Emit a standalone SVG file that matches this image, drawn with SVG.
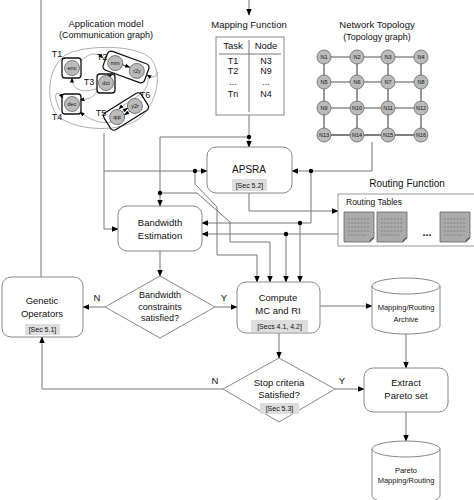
<svg xmlns="http://www.w3.org/2000/svg" width="474" height="500" viewBox="0 0 474 500">
<defs>
<marker id="ar" viewBox="0 0 10 10" refX="9" refY="5" markerWidth="7" markerHeight="7" markerUnits="userSpaceOnUse" orient="auto"><path d="M0,1 L10,5 L0,9 z" fill="#000"/></marker>
<marker id="sa" viewBox="0 0 10 10" refX="9" refY="5" markerWidth="5" markerHeight="5" markerUnits="userSpaceOnUse" orient="auto"><path d="M0,1 L10,5 L0,9 z" fill="#000"/></marker>
<g id="doc"><path d="M0,0 H30 V26 L26,30 H0 Z" fill="#aaa" stroke="#666" stroke-width="0.8"/><path d="M26,30 L27,27 L30,26" fill="none" stroke="#444" stroke-width="0.8"/><g stroke="#666" stroke-width="0.6" stroke-dasharray="2,1.2"><line x1="4" y1="7" x2="26" y2="7"/><line x1="4" y1="11" x2="26" y2="11"/><line x1="4" y1="15" x2="26" y2="15"/><line x1="4" y1="19" x2="26" y2="19"/><line x1="4" y1="23" x2="22" y2="23"/></g></g>
</defs>
<style>
text{font-family:"Liberation Sans",Arial,sans-serif;fill:#111}
.t{font-size:9.5px;text-anchor:middle}
.s{font-size:9px;text-anchor:middle}
.sec{font-size:7px;text-anchor:middle}
.sm{font-size:7.5px;text-anchor:middle}
.nl{font-size:5.5px;text-anchor:middle}
.box{fill:#fff;stroke:#888;stroke-width:1}
.secbg{fill:#ddd}
.c{fill:none;stroke:#777;stroke-width:1}
.ca{fill:none;stroke:#777;stroke-width:1;marker-end:url(#ar)}
.dot{fill:#000}
.nd{fill:#bbb;stroke:#666;stroke-width:0.8}
.tk{fill:none;stroke:#111;stroke-width:1.3}
.g{fill:none;stroke:#999;stroke-width:0.8}
.ga{fill:none;stroke:#999;stroke-width:0.8;marker-end:url(#sa)}
.e{stroke:#555;stroke-width:1.2}
</style>
<rect width="474" height="500" fill="#fff"/>

<g id="connectors">
<line class="c" x1="41" y1="0" x2="41" y2="277"/>
<line class="ca" x1="249" y1="0" x2="249" y2="15"/>
<line class="c" x1="249" y1="115" x2="249" y2="137"/>
<line class="ca" x1="249" y1="137" x2="249" y2="147"/>
<polyline class="ca" points="249,137 160,137 160,206"/>
<polyline class="ca" points="104,133 104,229 118,229"/>
<line class="ca" x1="104" y1="171" x2="207" y2="171"/>
<polyline class="ca" points="372,142 372,171 292,171"/>
<polyline class="c" points="311,171 311,223 300,223"/>
<line class="ca" x1="300" y1="223" x2="202" y2="223"/>
<line class="ca" x1="300" y1="223" x2="300" y2="282"/>
<line class="ca" x1="338" y1="234" x2="202" y2="234"/>
<line class="ca" x1="286" y1="234" x2="286" y2="282"/>
<polyline class="ca" points="195,171 195,184 217,207 217,255 257,255 257,282"/>
<polyline class="ca" points="160,193 197,193 230,222 230,242 270,242 270,282"/>
<polyline class="ca" points="249,193 249,211 338,211"/>
<line class="ca" x1="160" y1="251" x2="160" y2="276"/>
<line class="ca" x1="105" y1="307" x2="83" y2="307"/>
<line class="ca" x1="215" y1="307" x2="237" y2="307"/>
<line class="ca" x1="320" y1="306" x2="372" y2="306"/>
<line class="ca" x1="406" y1="334" x2="406" y2="368"/>
<line class="ca" x1="279" y1="333" x2="279" y2="358"/>
<polyline class="ca" points="223,389 42,389 42,337"/>
<line class="ca" x1="335" y1="389" x2="364" y2="389"/>
<line class="ca" x1="406" y1="412" x2="406" y2="441"/>
<circle class="dot" cx="249" cy="137" r="2.2"/>
<circle class="dot" cx="160" cy="193" r="2.2"/>
<circle class="dot" cx="195" cy="171" r="2.2"/>
<circle class="dot" cx="311" cy="171" r="2.2"/>
<circle class="dot" cx="300" cy="223" r="2.2"/>
<circle class="dot" cx="286" cy="234" r="2.2"/>
<text x="97" y="301" class="t">N</text>
<text x="224" y="301" class="t">Y</text>
<text x="215" y="384" class="t">N</text>
<text x="342" y="384" class="t">Y</text>
</g>

<g id="app-model">
<text x="106" y="27" class="t">Application model</text>
<text x="106" y="38" class="s">(Communication graph)</text>
<path class="g" d="M62,58 C72,45 138,42 152,60 C163,76 156,104 140,118 C120,133 80,131 60,118 C46,108 46,72 62,58"/>
<path class="ga" d="M98,88 C86,93 72,92 72,78"/>
<path class="ga" d="M115,72 C112,76 110,76 107,75"/>
<path class="ga" d="M98,90 C92,100 86,99 80,100"/>
<path class="ga" d="M112,122 C100,124 90,120 80,112"/>
<path class="ga" d="M148,78 C150,94 128,100 119,109"/>
<path class="ga" d="M60,110 C52,95 56,88 63,98"/>
<path class="ga" d="M80,62 C90,52 96,52 103,58"/>
<path class="ga" d="M158,72 C156,78 152,78 147,75"/>
<rect class="tk" x="62" y="58" width="19" height="20" rx="3"/>
<circle class="nd" cx="72" cy="68" r="7.5"/>
<text x="72" y="70" class="nl">enc</text>
<rect class="tk" x="97" y="74" width="18" height="19" rx="3"/>
<circle class="nd" cx="106" cy="83" r="7.5"/>
<text x="106" y="85" class="nl">dct</text>
<rect class="tk" x="62" y="94" width="19" height="20" rx="3"/>
<circle class="nd" cx="72" cy="104" r="7.5"/>
<text x="72" y="106" class="nl">dec</text>
<g transform="translate(126,67) rotate(20)">
<rect class="tk" x="-22" y="-10" width="44" height="20" rx="4"/>
<circle class="nd" cx="-11.5" cy="0" r="7.5"/>
<circle class="nd" cx="11.5" cy="0" r="7.5"/>
<line x1="-4" y1="-1" x2="3.5" y2="-1" stroke="#000" stroke-width="0.7" marker-end="url(#sa)"/>
</g>
<text x="115" y="65" class="nl">mm</text>
<text x="137" y="73" class="nl">r2y</text>
<g transform="translate(126,111.5) rotate(-32)">
<rect class="tk" x="-22" y="-10" width="44" height="20" rx="4"/>
<circle class="nd" cx="-10.5" cy="0" r="7.5"/>
<circle class="nd" cx="10.5" cy="0" r="7.5"/>
<line x1="-3" y1="-2" x2="3" y2="-2" stroke="#000" stroke-width="0.7" marker-end="url(#sa)"/>
<line x1="3" y1="2" x2="-3" y2="2" stroke="#000" stroke-width="0.7" marker-end="url(#sa)"/>
</g>
<text x="117" y="119" class="nl">qqt</text>
<text x="135" y="108" class="nl">y2r</text>
<text x="57" y="57" class="s">T1</text>
<text x="102" y="60" class="s">T2</text>
<text x="89" y="85" class="s">T3</text>
<text x="57" y="120" class="s">T4</text>
<text x="101" y="116" class="s">T5</text>
<text x="145" y="98" class="s">T6</text>
</g>

<g id="mapping-function">
<text x="249" y="28" class="t">Mapping Function</text>
<rect x="216" y="37" width="68" height="78" fill="#fff" stroke="#888"/>
<line x1="249" y1="40" x2="249" y2="112" stroke="#777"/>
<line x1="219" y1="54" x2="281" y2="54" stroke="#777"/>
<text x="233" y="49" class="t">Task</text>
<text x="266" y="49" class="t">Node</text>
<text x="233" y="64" class="s">T1</text>
<text x="266" y="64" class="s">N3</text>
<text x="233" y="74" class="s">T2</text>
<text x="266" y="74" class="s">N9</text>
<text x="233" y="85" class="s">...</text>
<text x="266" y="85" class="s">...</text>
<text x="233" y="97" class="s">Tn</text>
<text x="266" y="97" class="s">N4</text>
</g>

<g id="network-topology">
<text x="377" y="28" class="t">Network Topology</text>
<text x="377" y="40" class="s">(Topology graph)</text>
<g class="e">
<line x1="324" y1="57" x2="421" y2="57"/><line x1="324" y1="82" x2="421" y2="82"/><line x1="324" y1="108" x2="421" y2="108"/><line x1="324" y1="135" x2="421" y2="135" stroke-width="1.6"/>
<line x1="324" y1="57" x2="324" y2="135"/><line x1="357" y1="57" x2="357" y2="135"/><line x1="388" y1="57" x2="388" y2="135"/><line x1="421" y1="57" x2="421" y2="135"/>
</g>
<g>
<circle class="nd" cx="324" cy="57" r="7"/><circle class="nd" cx="357" cy="57" r="7"/><circle class="nd" cx="388" cy="57" r="7"/><circle class="nd" cx="421" cy="57" r="7"/>
<circle class="nd" cx="324" cy="82" r="7"/><circle class="nd" cx="357" cy="82" r="7"/><circle class="nd" cx="388" cy="82" r="7"/><circle class="nd" cx="421" cy="82" r="7"/>
<circle class="nd" cx="324" cy="108" r="7"/><circle class="nd" cx="357" cy="108" r="7"/><circle class="nd" cx="388" cy="108" r="7"/><circle class="nd" cx="421" cy="108" r="7"/>
<circle class="nd" cx="324" cy="135" r="7"/><circle class="nd" cx="357" cy="135" r="7"/><circle class="nd" cx="388" cy="135" r="7"/><circle class="nd" cx="421" cy="135" r="7"/>
</g>
<text x="324" y="59" class="nl">N1</text><text x="357" y="59" class="nl">N2</text><text x="388" y="59" class="nl">N3</text><text x="421" y="59" class="nl">N4</text>
<text x="324" y="84" class="nl">N5</text><text x="357" y="84" class="nl">N6</text><text x="388" y="84" class="nl">N7</text><text x="421" y="84" class="nl">N8</text>
<text x="324" y="110" class="nl">N9</text><text x="357" y="110" class="nl">N10</text><text x="388" y="110" class="nl">N11</text><text x="421" y="110" class="nl">N12</text>
<text x="324" y="137" class="nl">N13</text><text x="357" y="137" class="nl">N14</text><text x="388" y="137" class="nl">N15</text><text x="421" y="137" class="nl">N16</text>
</g>

<g id="apsra">
<rect class="box" x="207" y="147" width="85" height="46" rx="9"/>
<text x="249" y="173" class="t" style="font-size:10px">APSRA</text>
<rect class="secbg" x="232" y="179" width="35" height="12"/>
<text x="249.5" y="188" class="sec">[Sec 5.2]</text>
</g>

<g id="routing-function">
<text x="407" y="187" class="t" style="font-size:10px">Routing Function</text>
<rect x="338" y="194" width="138" height="52" fill="#fff" stroke="#999"/>
<text x="346" y="205" style="font-size:8.5px">Routing Tables</text>
<use href="#doc" x="344" y="212"/>
<use href="#doc" x="377" y="212"/>
<text x="427" y="236" class="t" style="font-size:11px;font-weight:bold">...</text>
<use href="#doc" x="440" y="212"/>
</g>

<g id="bandwidth-estimation">
<rect class="box" x="118" y="206" width="84" height="45" rx="9"/>
<text x="160" y="226" class="t">Bandwidth</text>
<text x="160" y="239" class="t">Estimation</text>
</g>

<g id="bandwidth-check">
<polygon points="160,276 215,307 160,338 105,307" fill="#fff" stroke="#888"/>
<text x="160" y="298" class="s">Bandwidth</text>
<text x="160" y="310" class="s">constraints</text>
<text x="160" y="321" class="s">satisfied?</text>
</g>

<g id="genetic-operators">
<rect class="box" x="2" y="277" width="81" height="60" rx="9"/>
<text x="42" y="304" class="t">Genetic</text>
<text x="42" y="317" class="t">Operators</text>
<rect class="secbg" x="25" y="324" width="35" height="11"/>
<text x="42.5" y="332" class="sec">[Sec 5.1]</text>
</g>

<g id="compute">
<rect class="box" x="237" y="282" width="83" height="51" rx="9"/>
<text x="278" y="301" class="t">Compute</text>
<text x="278" y="314" class="t">MC and RI</text>
<rect class="secbg" x="251" y="320" width="57" height="12"/>
<text x="279.5" y="329" class="sec">[Secs 4.1, 4.2]</text>
</g>

<g id="archive">
<path d="M372,286 A34,8 0 0 1 440,286 V326 A34,8 0 0 1 372,326 Z" fill="#fff" stroke="#888"/>
<path d="M372,286 A34,8 0 0 0 440,286" fill="none" stroke="#888"/>
<text x="406" y="310" class="sm">Mapping/Routing</text>
<text x="406" y="322" class="sm">Archive</text>
</g>

<g id="stop-check">
<polygon points="279,358 335,389 279,422 223,389" fill="#fff" stroke="#888"/>
<text x="279" y="386" class="t">Stop criteria</text>
<text x="279" y="398" class="t">Satisfied?</text>
<rect class="secbg" x="260" y="403" width="39" height="11"/>
<text x="279.5" y="411" class="sec">[Sec 5.3]</text>
</g>

<g id="extract">
<rect class="box" x="364" y="368" width="84" height="44" rx="9"/>
<text x="406" y="386" class="t">Extract</text>
<text x="406" y="399" class="t">Pareto set</text>
</g>

<g id="pareto">
<path d="M372,449 A34,8 0 0 1 440,449 V496 A34,8 0 0 1 372,496 Z" fill="#fff" stroke="#888"/>
<path d="M372,449 A34,8 0 0 0 440,449" fill="none" stroke="#888"/>
<text x="406" y="473" class="sm">Pareto</text>
<text x="406" y="483" class="sm">Mapping/Routing</text>
</g>
</svg>
